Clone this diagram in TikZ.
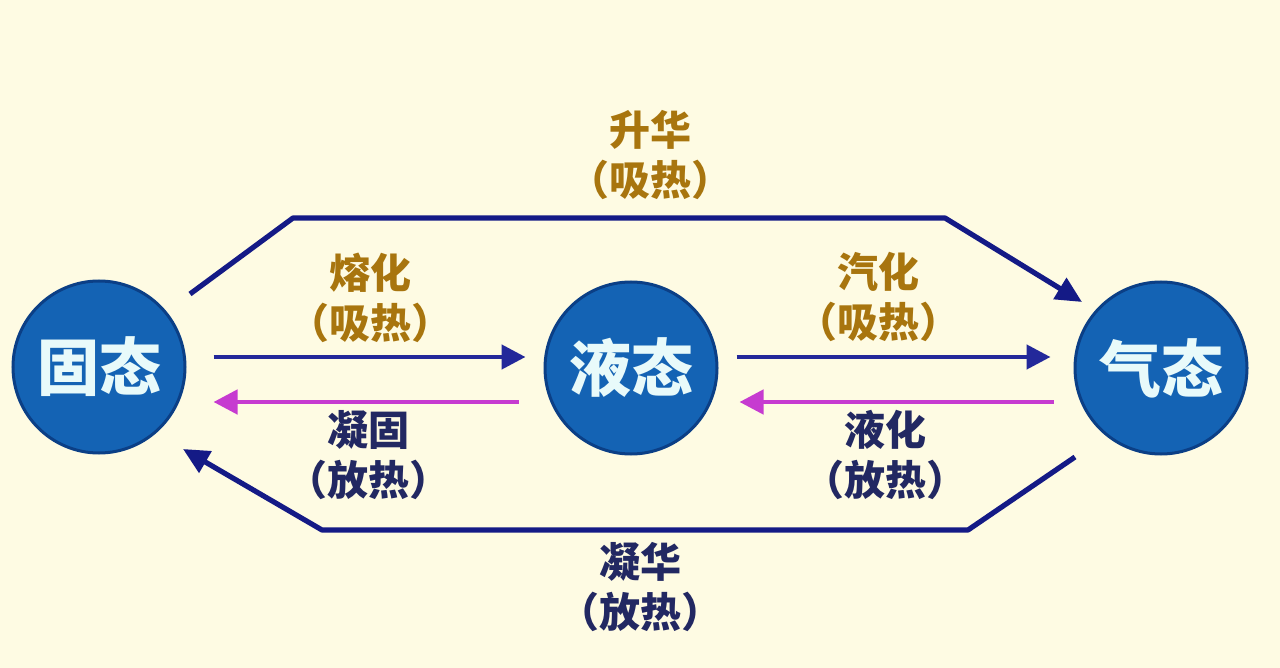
\documentclass[tikz,border=0pt]{standalone}
\usepackage{fontspec}
\newfontfamily\cjk{Noto Sans CJK SC}
\usetikzlibrary{arrows.meta,calc}
\definecolor{bg}{HTML}{FEFBE3}
\definecolor{circfill}{HTML}{1463B4}
\definecolor{circline}{HTML}{0B3F86}
\definecolor{circtext}{HTML}{E8FAFA}
\definecolor{navy}{HTML}{23289A}
\definecolor{deepnavy}{HTML}{141A86}
\definecolor{mag}{HTML}{C63BD0}
\definecolor{gold}{HTML}{A8750E}
\definecolor{labnavy}{HTML}{222862}
\tikzset{
  state/.style={circle, fill=circfill, draw=circline, line width=1.5pt, minimum size=86pt, inner sep=0pt,
    text=circtext, font=\cjk\bfseries\fontsize{31}{33}\selectfont},
  fwd/.style={draw=navy, line width=2.3pt, -{Triangle[length=12pt,width=12pt]}},
  back/.style={draw=mag, line width=2.3pt, -{Triangle[length=12pt,width=12pt]}},
  longarrow/.style={draw=deepnavy, line width=2.6pt, -{Triangle[length=13pt,width=12pt]}},
  lab/.style={align=center, font=\cjk\bfseries\fontsize{20.5}{25}\selectfont, inner sep=0pt},
  hot/.style={lab, text=gold},
  cold/.style={lab, text=labnavy}
}
\begin{document}
\begin{tikzpicture}[x=0.5pt,y=-0.5pt]
\fill[bg] (0,0) rectangle (1280,668);
\useasboundingbox (0,0) rectangle (1280,668);

\node[state] (solid) at (99,367) {固态};
\node[state] (liquid) at (631,368) {液态};
\node[state] (gas) at (1161,368) {气态};

% horizontal arrows
\draw[fwd] ($(solid.east)+(27,-10)$) -- ($(liquid.west)+(-18,-11)$);
\draw[back] ($(liquid.west)+(-25,34)$) -- ($(solid.east)+(27,35)$);
\draw[fwd] ($(liquid.east)+(18,-11)$) -- ($(gas.west)+(-23,-11)$);
\draw[back] ($(gas.west)+(-20,34)$) -- ($(liquid.east)+(21,34)$);

% sublimation
\coordinate (s1) at (293,218);
\coordinate (s2) at (945,218);
\draw[longarrow, line join=round] ($(solid)+(91,-73)$) -- (s1) -- (s2) -- ($(gas)+(-79,-66)$);

% deposition
\coordinate (d1) at (968,530);
\coordinate (d2) at (322,530);
\draw[longarrow, line join=round] ($(gas)+(-86,89)$) -- (d1) -- (d2) -- ($(solid)+(84,82)$);

% labels
\node[hot] (l1) at (650,155) {升华\\（吸热）};
\node[hot] (l2) at (370,298) {熔化\\（吸热）};
\node[hot] (l3) at (878,297) {汽化\\（吸热）};
\node[cold] (l4) at (368,455) {凝固\\（放热）};
\node[cold] (l5) at (885,455) {液化\\（放热）};
\node[cold] (l6) at (640,587) {凝华\\（放热）};
\end{tikzpicture}
\end{document}
